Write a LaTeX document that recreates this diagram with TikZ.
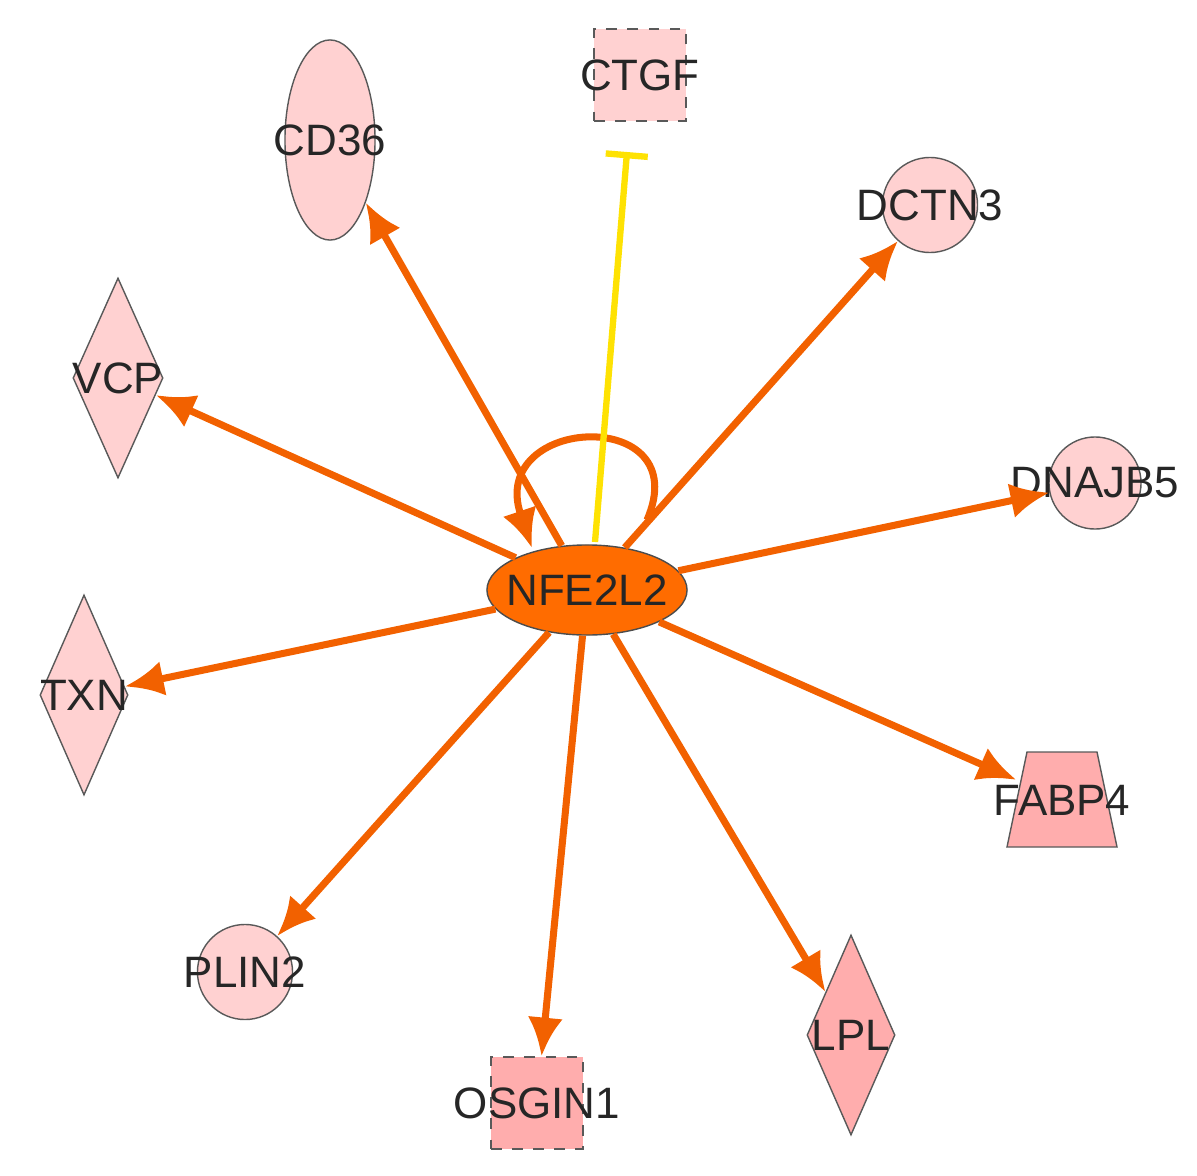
\documentclass[tikz,border=0pt]{standalone}
\usepackage{fontspec}
\setmainfont{Liberation Sans}
\usetikzlibrary{positioning, shapes.geometric, arrows.meta, calc}

\begin{document}
\begin{tikzpicture}[
    x=0.01cm, y=-0.01cm,
    font=\fontsize{12.5}{14}\selectfont,
    arrow/.style={
        -{Latex[length=11pt,width=10pt]},
        draw=orange!80!red!95!black,
        line width=2pt
    },
    gene/.style={
        draw=gray!70!black,
        fill=red!18,
        thin,
        inner sep=0pt
    },
    genedark/.style={
        gene,
        fill=red!32
    },
    lbl/.style={
        inner sep=0pt,
        text=black!85
    }
]
    \useasboundingbox (0,0) rectangle (1197,1176);

    % Hub
    \node[ellipse, draw=gray!60!black, fill=orange!85!red, minimum width=2cm, minimum height=0.9cm, inner sep=0pt] (nfe) at (587,590) {};
    \node[lbl] at (nfe) {NFE2L2};

    % Targets
    \node[gene, ellipse, minimum width=0.9cm, minimum height=2cm] (cd36) at (330,140) {};
    \node[gene, rectangle, dashed, minimum size=0.92cm] (ctgf) at (640,75) {};
    \node[gene, circle, minimum size=0.95cm] (dctn3) at (930,205) {};
    \node[gene, diamond, minimum width=0.9cm, minimum height=2cm] (vcp) at (118,378) {};
    \node[gene, circle, minimum size=0.92cm] (dnajb5) at (1095,483) {};
    \node[gene, diamond, minimum width=0.88cm, minimum height=2cm] (txn) at (84,695) {};
    \node[inner sep=0pt, minimum width=0.9cm, minimum height=0.95cm] (fabp4) at (1062,800) {};
    \filldraw[genedark] (1027,752) -- (1097,752) -- (1117,847) -- (1007,847) -- cycle;
    \node[gene, circle, minimum size=0.95cm] (plin2) at (245,972) {};
    \node[genedark, rectangle, dashed, minimum size=0.92cm] (osgin1) at (537,1103) {};
    \node[genedark, diamond, minimum width=0.88cm, minimum height=2cm] (lpl) at (851,1035) {};

    % Labels
    \foreach \g/\t in {cd36/CD36, ctgf/CTGF, dctn3/DCTN3, vcp/VCP, dnajb5/DNAJB5,
        txn/TXN, fabp4/FABP4, plin2/PLIN2, osgin1/OSGIN1, lpl/LPL}
        \node[lbl] (\g-l) at (\g) {\t};

    % Activation edges
    \foreach \g in {cd36, dctn3, vcp, dnajb5, txn, fabp4, plin2, osgin1, lpl}
        \draw[arrow] (nfe) -- (\g);

    % Self loop
    \draw[arrow] ($(nfe)+(60,-70)$) .. controls ($(nfe)+(110,-185)$) and ($(nfe)+(-100,-175)$) .. ($(nfe)+(-55,-42)$);

    % Inhibition
    \coordinate (ctgfend) at (627,152);
    \draw[draw=yellow!85!orange, line width=1.8pt, -{Bar[width=12pt]}] ($(nfe)+(8,-48)$) -- (ctgfend);
\end{tikzpicture}
\end{document}
